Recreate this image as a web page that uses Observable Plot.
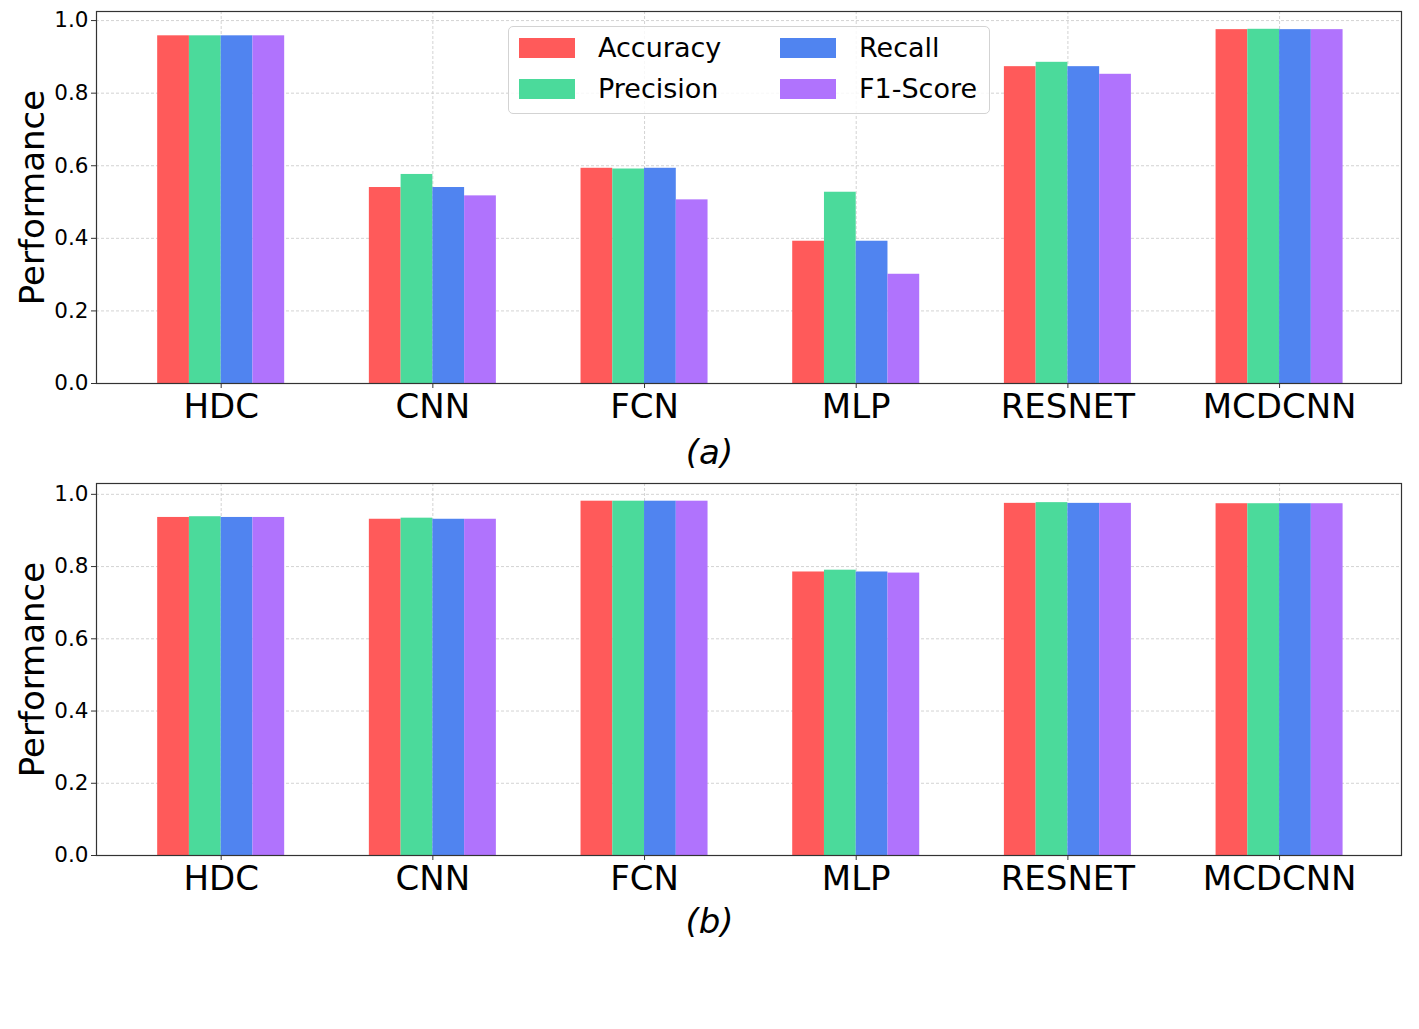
<!DOCTYPE html>
<html><head><meta charset="utf-8">
<script src="https://cdn.jsdelivr.net/npm/d3@7"></script>
<script src="https://cdn.jsdelivr.net/npm/@observablehq/plot@0.6"></script>
<style>
body{margin:0;background:#fff;font-family:"DejaVu Sans",sans-serif;}
#root{position:relative;width:1419px;height:1029px;overflow:hidden;}
.panel{position:absolute;left:0;}
.cap{position:absolute;left:0;width:1419px;text-align:center;font-style:italic;font-size:34px;line-height:40px;color:#000;}
.legend{position:absolute;left:508px;top:26px;width:482px;height:88px;border:1px solid #d3d3d3;border-radius:5px;background:rgba(255,255,255,0.82);box-sizing:border-box;}
.sw{position:absolute;width:56px;height:20px;}
.lt{position:absolute;font-size:27px;line-height:30px;color:#000;white-space:nowrap;}
</style></head><body><div id="root"></div>
<script>
const models = ["HDC","CNN","FCN","MLP","RESNET","MCDCNN"];
const metrics = ["Accuracy","Precision","Recall","F1-Score"];
const colors = ["#FF5A5A","#4BDA9B","#5084F0","#B073FD"];
const yTicks = [0,0.2,0.4,0.6,0.8,1.0];

const accuracyA  = [0.958,0.540,0.593,0.392,0.873,0.975];
const precisionA = [0.958,0.576,0.591,0.527,0.885,0.976];
const recallA    = [0.958,0.540,0.593,0.392,0.873,0.975];
const f1A        = [0.958,0.517,0.506,0.301,0.852,0.975];

const accuracyB  = [0.936,0.931,0.981,0.785,0.975,0.974];
const precisionB = [0.938,0.934,0.981,0.790,0.977,0.974];
const recallB    = [0.936,0.931,0.981,0.785,0.975,0.974];
const f1B        = [0.936,0.931,0.981,0.782,0.975,0.974];

const barW = 0.15;
function rows(series){
  const out=[];
  models.forEach((m,i)=>{
    series.forEach((s,k)=>{
      out.push({model:m, metric:metrics[k], value:s[i], x1:i+(k-2)*barW, x2:i+(k-1)*barW});
    });
  });
  return out;
}

function panel(series, ymax){
  const data = rows(series);
  const idx = d3.range(models.length);
  return Plot.plot({
    width:1419, height:430, marginTop:11, marginBottom:47, marginLeft:96, marginRight:18,
    style:{fontFamily:"DejaVu Sans", background:"transparent", color:"#000", overflow:"visible"},
    x:{domain:[-0.589,5.576]},
    y:{domain:[0,ymax]},
    color:{domain:metrics, range:colors},
    marks:[
      Plot.gridY(yTicks,{stroke:"#c8c8c8", strokeOpacity:1, strokeWidth:0.8, strokeDasharray:"3,2"}),
      Plot.gridX(idx,{stroke:"#c8c8c8", strokeOpacity:1, strokeWidth:0.8, strokeDasharray:"3,2"}),
      Plot.rectY(data,{x1:"x1", x2:"x2", y1:0, y2:"value", fill:"metric"}),
      Plot.axisY(yTicks,{tickFormat:d=>d.toFixed(1), fontSize:21.5, tickSize:5, tickPadding:3, label:null, stroke:"#333"}),
      Plot.axisX(idx,{tickFormat:i=>models[i], fontSize:34, tickSize:5, tickPadding:5, label:null, stroke:"#333"}),
      Plot.frame({stroke:"#333", strokeWidth:1.2}),
      Plot.text(["Performance"],{frameAnchor:"left", dx:-63, rotate:-90, textAnchor:"middle", fontSize:34, fill:"#000"})
    ]
  });
}

const root = document.getElementById("root");
const pa = panel([accuracyA,precisionA,recallA,f1A], 1.025);
pa.classList.add("panel"); pa.style.top="0px";
root.appendChild(pa);
const pb = panel([accuracyB,precisionB,recallB,f1B], 1.030);
pb.classList.add("panel"); pb.style.top="472px";
root.appendChild(pb);

const ca = document.createElement("div"); ca.className="cap"; ca.style.top="432px"; ca.textContent="(a)"; root.appendChild(ca);
const cb = document.createElement("div"); cb.className="cap"; cb.style.top="901px"; cb.textContent="(b)"; root.appendChild(cb);

const lg = document.createElement("div"); lg.className="legend";
metrics.forEach((m,k)=>{
  const col = Math.floor(k/2), row = k%2;
  const sw = document.createElement("div"); sw.className="sw";
  sw.style.left = (col?271:10)+"px"; sw.style.top=(11+row*41)+"px"; sw.style.background=colors[k];
  const t = document.createElement("div"); t.className="lt";
  t.style.left=(col?350:89)+"px"; t.style.top=(6+row*41)+"px"; t.textContent=m;
  lg.appendChild(sw); lg.appendChild(t);
});
root.appendChild(lg);
</script>
</body></html>
